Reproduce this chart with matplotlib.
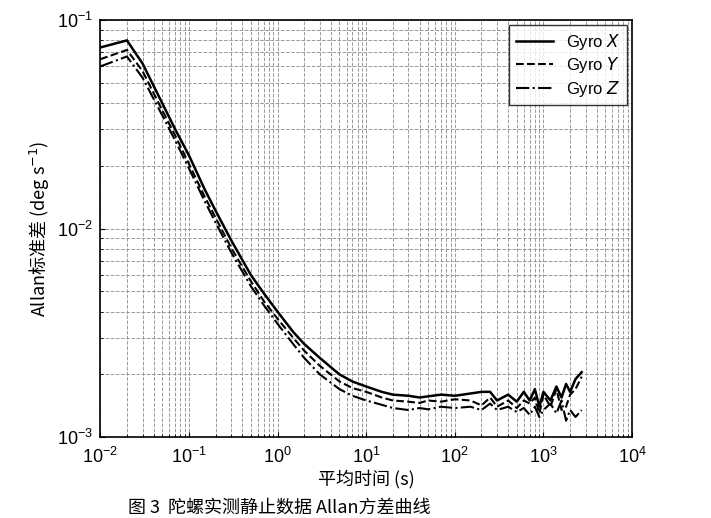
import matplotlib
matplotlib.use("Agg")
import matplotlib.pyplot as plt

plt.rcParams['font.family'] = ['Liberation Sans', 'Noto Sans CJK SC', 'DejaVu Sans']

tau = [0.01, 0.02, 0.03, 0.05, 0.07, 0.1, 0.15, 0.2, 0.3, 0.5, 0.7, 1.0, 1.5, 2, 3, 5, 7, 10, 15, 20, 30, 40, 50, 70,
       100, 150, 200, 250, 300, 400, 500, 600, 700, 800, 900, 1000, 1200, 1400, 1600, 1800, 2000, 2300, 2700]
gx = [0.074, 0.080, 0.062, 0.040, 0.030, 0.0225, 0.0155, 0.0122, 0.0088, 0.0060, 0.0049, 0.0040, 0.0032, 0.0028,
      0.0024, 0.0020, 0.00185, 0.00175, 0.00165, 0.00160, 0.00158, 0.00155, 0.00157, 0.00160,
      0.00158, 0.00162, 0.00165, 0.00165, 0.00150, 0.00160, 0.00148, 0.00165, 0.00150, 0.00170, 0.00140,
      0.00165, 0.00150, 0.00175, 0.00155, 0.00180, 0.00165, 0.00190, 0.00205]
gy = [0.065, 0.072, 0.057, 0.037, 0.028, 0.0205, 0.0143, 0.0113, 0.0081, 0.0056, 0.0045, 0.0037, 0.0030, 0.0026,
      0.0022, 0.00185, 0.00172, 0.00165, 0.00155, 0.00150, 0.00148, 0.00146, 0.00150, 0.00148,
      0.00152, 0.00150, 0.00142, 0.00155, 0.00140, 0.00150, 0.00138, 0.00150, 0.00145, 0.00155, 0.00130,
      0.00160, 0.00140, 0.00170, 0.00135, 0.00140, 0.00160, 0.00170, 0.00195]
gz = [0.060, 0.067, 0.053, 0.035, 0.0265, 0.0195, 0.0136, 0.0107, 0.0077, 0.0053, 0.0043, 0.0035, 0.0028, 0.0024,
      0.0020, 0.00170, 0.00158, 0.00150, 0.00143, 0.00138, 0.00135, 0.00138, 0.00136, 0.00140,
      0.00138, 0.00140, 0.00135, 0.00145, 0.00135, 0.00140, 0.00132, 0.00138, 0.00128, 0.00140, 0.00125,
      0.00135, 0.00145, 0.00130, 0.00150, 0.00120, 0.00135, 0.00125, 0.00135]

fig = plt.figure(figsize=(7.11, 5.18), dpi=100)
ax = fig.add_axes([0.141, 0.156, 0.748, 0.805])
ax.loglog(tau, gx, 'k-', lw=1.8, label='Gyro $\\it{X}$')
ax.loglog(tau, gy, 'k--', lw=1.5, label='Gyro $\\it{Y}$')
ax.loglog(tau, gz, 'k-.', lw=1.5, label='Gyro $\\it{Z}$')
ax.set_xlim(1e-2, 1e4)
ax.set_ylim(1e-3, 1e-1)
ax.grid(True, which='both', ls='--', color='#999999', lw=0.7)
ax.tick_params(which='both', direction='in', labelsize=13)
ax.tick_params(axis='x', pad=7)
ax.tick_params(axis='y', pad=5)
ax.set_xlabel('平均时间 (s)', fontsize=13, family=['Noto Sans CJK SC', 'DejaVu Sans'], labelpad=2)
ax.set_ylabel('Allan标准差 (deg s$^{-1}$)', fontsize=13, family=['Noto Sans CJK SC', 'DejaVu Sans'])
leg = ax.legend(loc='upper right', fontsize=12, fancybox=False, edgecolor='k', handlelength=2.2,
                borderaxespad=0.3, labelspacing=0.2)
for s in ax.spines.values():
    s.set_linewidth(1.2)
fig.text(0.18, 0.01, '图 3  陀螺实测静止数据 Allan方差曲线', fontsize=13,
         family=['Noto Sans CJK SC', 'DejaVu Sans'])
fig.savefig('out.png', dpi=100)
